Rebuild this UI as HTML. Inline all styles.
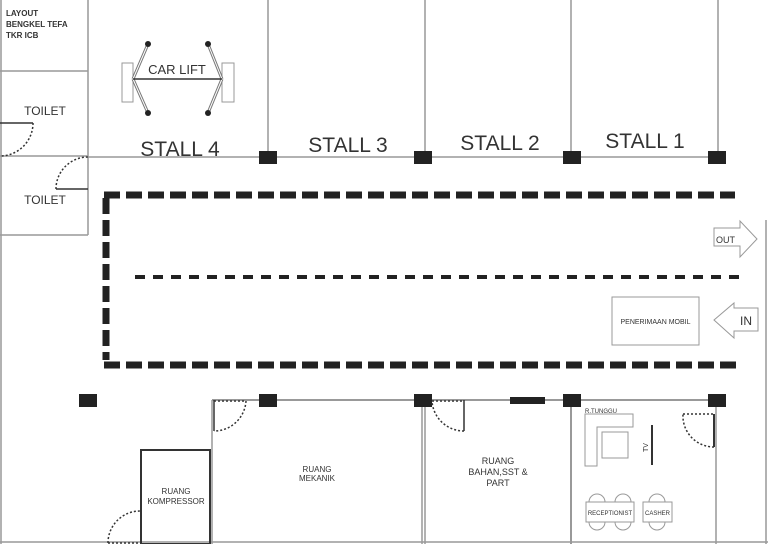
<!DOCTYPE html>
<html><head><meta charset="utf-8"><style>
html,body{margin:0;padding:0;background:#fff;}
svg{display:block;}
text{font-family:"Liberation Sans",sans-serif;fill:#333;}
</style></head><body>
<svg width="768" height="544" viewBox="0 0 768 544" xmlns="http://www.w3.org/2000/svg">
<g fill="none" stroke="#999" stroke-width="1.5">
<line x1="1" y1="0" x2="1" y2="544"/>
<line x1="0" y1="542" x2="768" y2="542"/>
<line x1="766" y1="220" x2="766" y2="544"/>
<line x1="88" y1="0" x2="88" y2="235"/>
<line x1="0" y1="71" x2="88" y2="71"/>
<line x1="0" y1="156" x2="88" y2="156"/>
<line x1="0" y1="235" x2="88" y2="235"/>
<line x1="268" y1="0" x2="268" y2="157"/>
<line x1="425" y1="0" x2="425" y2="157"/>
<line x1="571" y1="0" x2="571" y2="157"/>
<line x1="718" y1="0" x2="718" y2="157"/>
<line x1="88" y1="157" x2="718" y2="157"/>
<line x1="212" y1="400" x2="718" y2="400" stroke-width="2"/>
<line x1="212" y1="400" x2="212" y2="544"/>
<line x1="422" y1="400" x2="422" y2="544"/>
<line x1="425" y1="400" x2="425" y2="544"/>
<line x1="571" y1="400" x2="571" y2="544" stroke-width="2"/>
<line x1="716" y1="400" x2="716" y2="544"/>
</g>
<g fill="#222">
<rect x="259" y="151" width="18" height="13"/>
<rect x="414" y="151" width="18" height="13"/>
<rect x="563" y="151" width="18" height="13"/>
<rect x="708" y="151" width="18" height="13"/>
<rect x="79" y="394" width="18" height="13"/>
<rect x="259" y="394" width="18" height="13"/>
<rect x="414" y="394" width="18" height="13"/>
<rect x="563" y="394" width="18" height="13"/>
<rect x="708" y="394" width="18" height="13"/>
<rect x="510" y="397" width="35" height="7"/>
</g>
<rect x="141" y="450" width="69" height="94" fill="none" stroke="#333" stroke-width="2"/>
<g stroke="#222" fill="none">
<line x1="104" y1="195" x2="735" y2="195" stroke-width="7" stroke-dasharray="16 6"/>
<line x1="106" y1="198" x2="106" y2="360" stroke-width="7" stroke-dasharray="16 6"/>
<line x1="104" y1="365" x2="740" y2="365" stroke-width="7" stroke-dasharray="16 6"/>
<line x1="135" y1="277" x2="740" y2="277" stroke-width="4" stroke-dasharray="10 8"/>
</g>
<g fill="#fff" stroke="#999" stroke-width="1">
<polygon points="714,228 740,228 740,221 757,239 740,257 740,246 714,246"/>
<polygon points="758,308 734,308 734,303 714,320 734,338 734,331 758,331"/>
<rect x="612" y="297" width="87" height="48"/>
</g>
<text x="716" y="243" font-size="9">OUT</text>
<text x="740" y="325" font-size="12">IN</text>
<text x="655.5" y="324" font-size="7" text-anchor="middle">PENERIMAAN MOBIL</text>
<g stroke="#999" fill="#fff">
<rect x="122" y="63" width="11" height="39"/>
<rect x="222" y="63" width="12" height="39"/>
</g>
<g stroke="#777" stroke-width="3">
<line x1="148" y1="44" x2="133" y2="79"/>
<line x1="148" y1="113" x2="133" y2="79"/>
<line x1="208" y1="44" x2="222" y2="79"/>
<line x1="208" y1="113" x2="222" y2="79"/>
</g>
<g stroke="#fff" stroke-width="1">
<line x1="148" y1="44" x2="133" y2="79"/>
<line x1="148" y1="113" x2="133" y2="79"/>
<line x1="208" y1="44" x2="222" y2="79"/>
<line x1="208" y1="113" x2="222" y2="79"/>
</g>
<line x1="133" y1="79" x2="222" y2="79" stroke="#333" stroke-width="1.5"/>
<g fill="#222"><circle cx="148" cy="44" r="3"/><circle cx="208" cy="44" r="3"/><circle cx="148" cy="113" r="3"/><circle cx="208" cy="113" r="3"/></g>
<text x="177" y="74" font-size="13" text-anchor="middle">CAR LIFT</text>
<g fill="none" stroke="#333" stroke-width="1.5">
<line x1="0" y1="123" x2="33" y2="123"/>
<line x1="56" y1="189" x2="88" y2="189"/>
<line x1="214" y1="400" x2="214" y2="431"/>
<line x1="464" y1="400" x2="464" y2="431"/>
<line x1="714" y1="414" x2="714" y2="447" stroke-width="2"/>
</g>
<g fill="none" stroke="#333" stroke-width="1.5" stroke-dasharray="2 2">
<path d="M33,123 A33,33 0 0 1 0,156"/>
<path d="M56,189 A32,32 0 0 1 88,157"/>
<line x1="214" y1="401" x2="246" y2="401"/>
<path d="M246,401 A32,32 0 0 1 214,431"/>
<line x1="432" y1="401" x2="464" y2="401"/>
<path d="M464,431 A32,32 0 0 1 432,401"/>
<line x1="683" y1="414" x2="714" y2="414"/>
<path d="M714,447 A31,31 0 0 1 683,414"/>
<line x1="108" y1="543" x2="140" y2="543"/>
<path d="M108,543 A32,32 0 0 1 140,511"/>
</g>
<g fill="none" stroke="#999" stroke-width="1">
<polygon points="585,414 633,414 633,427 597,427 597,466 585,466"/>
<rect x="602" y="432" width="26" height="26"/>
<rect x="586" y="502" width="48" height="20"/>
<rect x="643" y="502" width="29" height="20"/>
<path d="M589,502 A8,8 0 0 1 605,502"/><path d="M615,502 A8,8 0 0 1 631,502"/><path d="M649,502 A8,8 0 0 1 665,502"/>
<path d="M589,522 A8,8 0 0 0 605,522"/><path d="M615,522 A8,8 0 0 0 631,522"/><path d="M649,522 A8,8 0 0 0 665,522"/>
</g>
<line x1="652" y1="425" x2="652" y2="465" stroke="#333" stroke-width="2"/>
<text x="585" y="413" font-size="6">R.TUNGGU</text>
<text transform="translate(648,452) rotate(-90)" font-size="7">TV</text>
<text x="610" y="515" font-size="6" text-anchor="middle">RECEPTIONIST</text>
<text x="657.5" y="515" font-size="6" text-anchor="middle">CASHER</text>
<g font-weight="bold" style="fill:#444">
<text x="6" y="16" font-size="8">LAYOUT</text>
<text x="6" y="27" font-size="8">BENGKEL TEFA</text>
<text x="6" y="38" font-size="8">TKR ICB</text>
</g>
<text x="45" y="115" font-size="12" text-anchor="middle">TOILET</text>
<text x="45" y="204" font-size="12" text-anchor="middle">TOILET</text>
<text x="180" y="156" font-size="21" text-anchor="middle">STALL 4</text>
<text x="348" y="152" font-size="21" text-anchor="middle">STALL 3</text>
<text x="500" y="150" font-size="21" text-anchor="middle">STALL 2</text>
<text x="645" y="148" font-size="21" text-anchor="middle">STALL 1</text>
<text x="317" y="472" font-size="8" text-anchor="middle">RUANG</text>
<text x="317" y="481" font-size="8" text-anchor="middle">MEKANIK</text>
<text x="176" y="494" font-size="8" text-anchor="middle">RUANG</text>
<text x="176" y="504" font-size="8" text-anchor="middle">KOMPRESSOR</text>
<text x="498" y="464" font-size="9" text-anchor="middle">RUANG</text>
<text x="498" y="475" font-size="9" text-anchor="middle">BAHAN,SST &amp;</text>
<text x="498" y="486" font-size="9" text-anchor="middle">PART</text>
</svg>
</body></html>
